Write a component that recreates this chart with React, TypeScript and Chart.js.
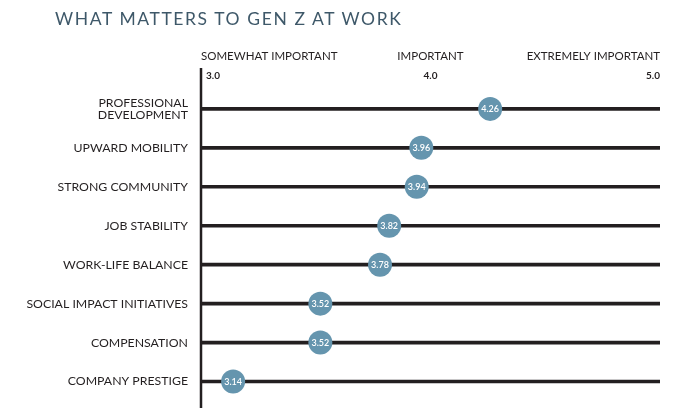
import { useEffect, useRef } from 'react'
import Chart from 'chart.js/auto'

const categories: (string | string[])[] = [
  ['PROFESSIONAL', 'DEVELOPMENT'],
  'UPWARD MOBILITY',
  'STRONG COMMUNITY',
  'JOB STABILITY',
  'WORK-LIFE BALANCE',
  'SOCIAL IMPACT INITIATIVES',
  'COMPENSATION',
  'COMPANY PRESTIGE',
]
const scores = [4.26, 3.96, 3.94, 3.82, 3.78, 3.52, 3.52, 3.14]
const scaleMin = 3
const scaleMax = 5
const tickLabels = ['3.0', '4.0', '5.0']
const levelLabels = ['SOMEWHAT IMPORTANT', 'IMPORTANT', 'EXTREMELY IMPORTANT']

const FONT = 'Lato, "Open Sans", sans-serif'
const DOT = '#6595ae'
const INK = '#231f20'

// value text inside each dot + the tall vertical axis line
const dotLabels = {
  id: 'dotLabels',
  beforeDatasetsDraw(chart: any) {
    const { ctx, chartArea } = chart
    const top = chart.scales.x.top + 1
    ctx.save()
    ctx.strokeStyle = INK
    ctx.lineWidth = 2.5
    ctx.beginPath()
    ctx.moveTo(chartArea.left, top)
    ctx.lineTo(chartArea.left, chart.height)
    ctx.stroke()
    ctx.restore()
  },
  afterDatasetsDraw(chart: any) {
    const { ctx } = chart
    const meta = chart.getDatasetMeta(1)
    ctx.save()
    ctx.fillStyle = '#ffffff'
    ctx.font = `600 9px ${FONT}`
    ctx.textAlign = 'center'
    ctx.textBaseline = 'middle'
    meta.data.forEach((pt: any, i: number) => {
      ctx.fillText(scores[i].toFixed(2), pt.x, pt.y + 0.5)
    })
    ctx.restore()
  },
}

export default function App() {
  const canvasRef = useRef<HTMLCanvasElement>(null)

  useEffect(() => {
    document.body.style.margin = '0'
    if (!canvasRef.current) return
    const chart = new Chart(canvasRef.current, {
      type: 'bar',
      data: {
        labels: categories,
        datasets: [
          {
            type: 'bar',
            data: scores.map(() => [scaleMin, scaleMax]) as any,
            backgroundColor: INK,
            barThickness: 3,
            borderWidth: 0,
            order: 2,
          },
          {
            type: 'line',
            data: scores,
            indexAxis: 'y',
            showLine: false,
            pointRadius: 12,
            pointHoverRadius: 12,
            pointBackgroundColor: DOT,
            pointBorderWidth: 0,
            clip: false,
            order: 1,
          } as any,
        ],
      },
      options: {
        indexAxis: 'y',
        animation: false,
        responsive: true,
        maintainAspectRatio: false,
        layout: { autoPadding: false, padding: { top: 41, right: 23, bottom: 7, left: 0 } },
        plugins: {
          legend: { display: false },
          tooltip: { enabled: false },
        },
        scales: {
          x: {
            type: 'linear',
            position: 'top',
            weight: 1,
            min: scaleMin,
            max: scaleMax,
            afterFit: (s: any) => { s.height = 22.4 },
            afterBuildTicks: (s: any) => {
              s.ticks = tickLabels.map((t) => ({ value: parseFloat(t) }))
            },
            border: { display: false },
            grid: { display: false, drawTicks: false },
            ticks: {
              align: 'inner',
              padding: 8,
              color: INK,
              font: { family: FONT, size: 10, weight: 'bold' },
              callback: (v: any) => {
                const t = tickLabels.find((l) => parseFloat(l) === v) ?? ''
                // small gap between the first label and the axis line
                return v === scaleMin ? '\u2002' + t : t
              },
            },
          },
          x2: {
            type: 'linear',
            position: 'top',
            weight: 2,
            min: scaleMin,
            max: scaleMax,
            afterFit: (s: any) => { s.height = 26 },
            afterBuildTicks: (s: any) => {
              s.ticks = tickLabels.map((t) => ({ value: parseFloat(t) }))
            },
            border: { display: false },
            grid: { display: false, drawTicks: false },
            ticks: {
              align: 'inner',
              padding: 4,
              color: INK,
              font: { family: FONT, size: 11.5 },
              callback: (v: any) => levelLabels[tickLabels.findIndex((t) => parseFloat(t) === v)] ?? '',
            },
          },
          y: {
            type: 'category',
            afterFit: (s: any) => {
              s.width = 201
              s.paddingTop = 0
              s.paddingBottom = 0
            },
            border: { display: false },
            grid: { display: false, drawTicks: false },
            ticks: {
              padding: 13,
              color: INK,
              font: { family: FONT, size: 12.3, lineHeight: 1.02 },
            },
          },
        },
      },
      plugins: [dotLabels],
    })
    return () => chart.destroy()
  }, [])

  return (
    <div style={{ position: 'relative', width: 683, height: 408, background: '#fff' }}>
      <div
        style={{
          position: 'absolute',
          left: 55,
          top: 8,
          fontFamily: FONT,
          fontSize: 17.5,
          letterSpacing: 1.6,
          color: '#3e5869',
        }}
      >
        WHAT MATTERS TO GEN Z AT WORK
      </div>
      <canvas ref={canvasRef} />
    </div>
  )
}
